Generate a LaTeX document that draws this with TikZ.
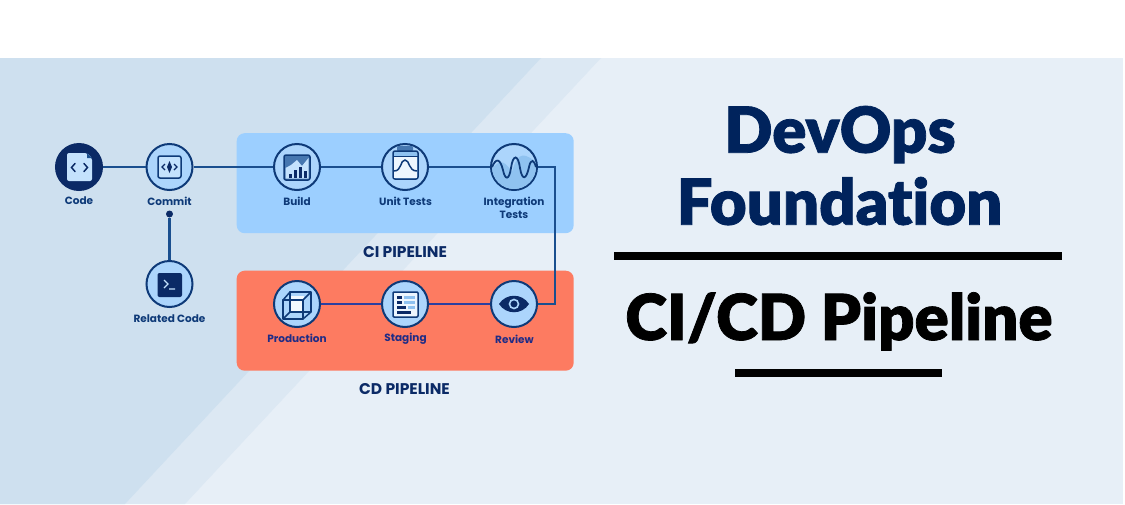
\documentclass[tikz,border=0pt]{standalone}
\usepackage{fontspec}
\setmainfont{Open Sans}
\newfontfamily\labelfont{Poppins}
\newfontfamily\titlefont[Ligatures=NoCommon,FakeBold=1.2]{Lato Black}
\definecolor{navy}{HTML}{0B2A66}
\definecolor{titleblue}{HTML}{00235C}
\definecolor{ink}{HTML}{0E3A78}
\definecolor{inkcd}{HTML}{1F2C86}
\definecolor{wire}{HTML}{1A4F8F}
\definecolor{wirecd}{HTML}{2A3FA0}
\definecolor{bgl}{HTML}{E7EFF7}
\definecolor{bgm}{HTML}{DCE8F3}
\definecolor{bgd}{HTML}{CEE0EF}
\definecolor{ciblue}{HTML}{9CCFFF}
\definecolor{cdred}{HTML}{FD7B61}
\definecolor{disc}{HTML}{ACD5FC}
\definecolor{discl}{HTML}{C4E2FD}
\definecolor{discd}{HTML}{8FC2F0}
\tikzset{
 x=1pt,y=-1pt,
 stage/.style={circle,draw=ink,line width=2pt,fill=disc,minimum size=46pt,inner sep=0pt,
   path picture={\fill[discl] ([xshift=10pt,yshift=30pt]path picture bounding box.center) -- ++(30pt,0) -- ++(0,-50pt) -- ++(-2pt,0) -- cycle;}},
 sourcestage/.style={circle,draw=navy,line width=2pt,fill=navy,minimum size=46pt,inner sep=0pt},
 wirepath/.style={draw=wire,line width=2.1pt},
 wirecdpath/.style={draw=wirecd,line width=2.1pt},
 lab/.style={font=\labelfont\fontsize{10.5}{13}\selectfont\bfseries,text=ink,align=center,inner sep=0pt},
 labcd/.style={lab,text=inkcd},
 pipe/.style={font=\labelfont\fontsize{15.5}{17}\selectfont\bfseries,text=navy,inner sep=0pt},
 glyph/.style={draw=ink,line width=1.5pt,line join=round},
 panel/.style={rounded corners=8pt,draw=none},
 bigtitle/.style={font=\titlefont\fontsize{63.5}{66}\selectfont,anchor=base,inner sep=0pt},
}
\begin{document}
\begin{tikzpicture}
\useasboundingbox (0,0) rectangle (1125,504);
\fill[white] (0,0) rectangle (1125,504);
\fill[bgl] (0,58) rectangle (1122.5,504);
\fill[bgm] (0,58) -- (601,58) -- (185,504) -- (0,504) -- cycle;
\fill[bgd] (0,58) -- (541,58) -- (125,504) -- (0,504) -- cycle;
\node[panel,fill=ciblue,minimum width=337pt,minimum height=100pt,anchor=north west] (ci) at (236.5,133) {};
\node[panel,fill=cdred,minimum width=337pt,minimum height=100pt,anchor=north west] (cd) at (236.5,270.5) {};
% stages
\node[sourcestage] (code) at (79,167) {};
\node[stage] (commit) at (169.5,167) {};
\node[stage] (related) at (169.5,284) {};
\node[stage] (build) at (297,167) {};
\node[stage] (unit) at (405,167) {};
\node[stage] (integ) at (514,167) {};
\node[stage] (prod) at (297,304) {};
\node[stage] (staging) at (405,304) {};
\node[stage] (review) at (514,304) {};
\coordinate (cornerA) at (555,167);
\coordinate (cornerB) at (555,304);
\node[circle,fill=navy,minimum size=7pt,inner sep=0pt] (dot) at (169.5,214) {};
% connectors
\draw[wirepath] (code) -- (commit);
\draw[wirepath] (commit) -- (build);
\draw[wirepath] (build) -- (unit);
\draw[wirepath] (unit) -- (integ);
\draw[wirepath] (integ) -- (cornerA) -- (cornerB) -- (review);
\draw[wirecdpath] (review) -- (staging);
\draw[wirecdpath] (staging) -- (prod);
\draw[wirepath] (related) -- (dot);
% code icon
\fill[discl,rounded corners=2pt] (67,153) -- (87,153) -- (92,158) -- (92,181) -- (67,181) -- cycle;
\fill[wire] (87,153) -- (92,158) -- (87,158) -- cycle;
\draw[navy,line width=1.5pt,line cap=round] (75,163.5) -- (71.5,167.5) -- (75,171.5) (84,163.5) -- (87.5,167.5) -- (84,171.5);
% commit icon
\draw[glyph,fill=discl,rounded corners=2pt] (158,156) rectangle (181,178);
\draw[navy,line width=1.4pt] (165,164) -- (162,167) -- (165,170) (174,164) -- (177,167) -- (174,170);
\fill[navy] (169.5,161) -- (172,167) -- (169.5,173) -- (167,167) -- cycle;
% related icon
\fill[navy,rounded corners=2pt] (157.5,273) rectangle (182,297);
\draw[discl,line width=1.1pt] (164,280) -- (168,284) -- (164,288) (169,289) -- (175,289);
% build icon
\draw[glyph,fill=wire!70!disc,rounded corners=2pt] (284,155) rectangle (310,180);
\fill[discl] (285.5,168) -- (291,165) -- (297,160) -- (302,166) -- (308.5,158) -- (308.5,178.5) -- (285.5,178.5) -- cycle;
\foreach \bx/\by in {289/174,294/170,299/167,304/171}{\fill[navy] (\bx,\by) rectangle ++(3,178-\by);}
% unit icon
\fill[wire!70!disc,rounded corners=1pt] (397,146) rectangle (413,151);
\draw[glyph,fill=discd,rounded corners=2pt] (393,151) rectangle (418,179);
\fill[white!70!discl] (394,157) -- (417,157) -- (417,178) -- (394,178) -- cycle;
\draw[glyph] (393,156.5) -- (418,156.5);
\draw[ink,line width=1.5pt] (394,171) .. controls (402,171) and (400,160) .. (405,160) .. controls (410,160) and (408,171) .. (417,171);
% integration icon
\begin{scope}
\clip (514,167) circle (22pt);
\fill[discd] (490,172) .. controls (498,160) and (503,158) .. (512,172) .. controls (518,150) and (525,152) .. (540,166) -- (540,195) -- (490,195) -- cycle;
\end{scope}
\draw[ink,line width=1.8pt] (492,167) .. controls (496,158) and (500,158) .. (503,170) .. controls (505,180) and (509,181) .. (511,168) .. controls (513,154) and (518,154) .. (520,168) .. controls (522,180) and (526,181) .. (529,167) .. controls (531,158) and (534,160) .. (536,167);
% production icon
\fill[white!85!disc] (289,296) rectangle (304,313);
\draw[glyph] (283,300) rectangle (303,319);
\draw[glyph] (290,292) rectangle (311,312);
\draw[glyph] (283,300) -- (290,292) (303,300) -- (311,292) (303,319) -- (311,312) (283,319) -- (290,312);
% staging icon
\draw[glyph,fill=white!70!discl,rounded corners=1pt] (393,292) rectangle (418,317);
\foreach \ly/\lw in {296/5,301/5,306/9,311/14}{\fill[navy] (397,\ly) rectangle ++(\lw,3);}
\foreach \ly/\lx in {296/404,301/404,306/408}{\fill[discd] (\lx,\ly) rectangle (415,\ly+3);}
% review icon
\fill[navy] (499,304) .. controls (506,293) and (522,293) .. (529,304) .. controls (522,315) and (506,315) .. (499,304) -- cycle;
\draw[disc,line width=1.6pt] (514,304) circle (4.5pt);
% labels
\node[lab] (codeL) at (79,201) {Code};
\node[lab] (commitL) at (169.5,201) {Commit};
\node[lab] (relatedL) at (169.5,319) {Related Code};
\node[lab] (buildL) at (297,201) {Build};
\node[lab] (unitL) at (405.5,201) {Unit Tests};
\node[lab] (integL) at (514,208) {Integration\\Tests};
\node[labcd] (prodL) at (297,338) {Production};
\node[labcd] (stagingL) at (405.5,339) {Staging};
\node[labcd] (reviewL) at (514.5,339) {Review};
\node[pipe] (ciL) at (405,252) {CI PIPELINE};
\node[pipe] (cdL) at (404.5,389) {CD PIPELINE};
% title
\node[bigtitle,text=titleblue] (t1) at (840,152.7) {DevOps};
\node[bigtitle,text=titleblue] (t2) at (839.5,224.7) {Foundation};
\node[bigtitle,text=black] (t3) at (839,340) {CI/CD Pipeline};
\fill[black] (614,252) rectangle (1062,260);
\fill[black] (735,368.5) rectangle (942,376.5);
\end{tikzpicture}
\end{document}
